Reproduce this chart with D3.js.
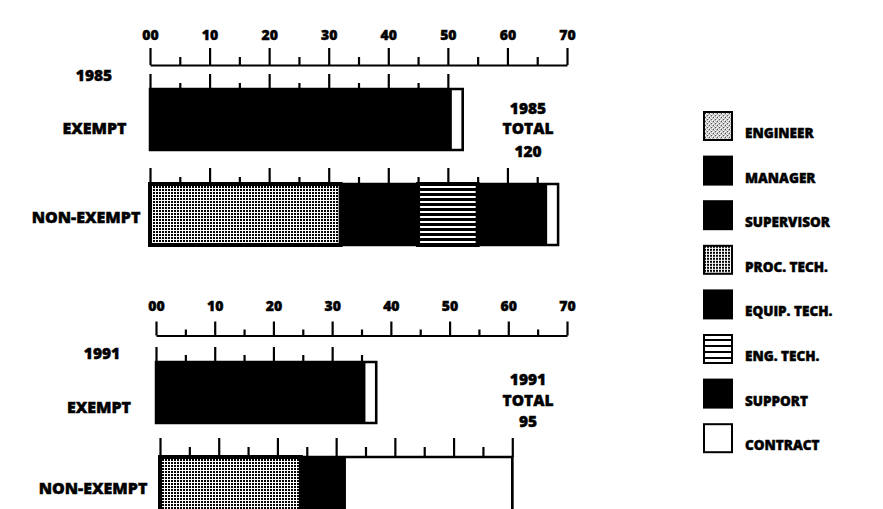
<!DOCTYPE html>
<html>
<head>
<meta charset="utf-8">
<script src="https://cdn.jsdelivr.net/npm/d3@7"></script>
<style>
  body { margin: 0; background: #fff; }
  svg text { font-family: "Open Sans", "Liberation Sans", sans-serif; font-weight: 800; fill: #000; stroke: #000; stroke-width: 0.45; }
</style>
</head>
<body>
<svg id="chart" width="883" height="509"></svg>
<script>
// ---- data ----
const categories = ["ENGINEER", "MANAGER", "SUPERVISOR", "PROC. TECH.", "EQUIP. TECH.", "ENG. TECH.", "SUPPORT", "CONTRACT"];
const tickValues = [0, 10, 20, 30, 40, 50, 60, 70];
const tickLabels = ["00", "10", "20", "30", "40", "50", "60", "70"];
const years = ["1985", "1991"];
const totals = [120, 95];
const rowNames = ["EXEMPT", "NON-EXEMPT"];

const exempt1985 = [["MANAGER", 50.5], ["CONTRACT", 2]];
const nonExempt1985 = [["PROC. TECH.", 32], ["EQUIP. TECH.", 13], ["ENG. TECH.", 10], ["SUPPORT", 11.5], ["CONTRACT", 2]];
const exempt1991 = [["MANAGER", 35.5], ["CONTRACT", 2]];
const nonExempt1991 = [["PROC. TECH.", 24], ["EQUIP. TECH.", 7.5], ["CONTRACT", 28.5]];

const svg = d3.select("#chart");
const defs = svg.append("defs");

// patterns
const engPat = defs.append("pattern").attr("id", "p-engineer")
    .attr("patternUnits", "userSpaceOnUse").attr("width", 4).attr("height", 4);
engPat.append("rect").attr("width", 4).attr("height", 4).attr("fill", "#c4c4c4");
[[0, 0], [2, 1], [1, 3], [3, 2]].forEach(([x, y]) =>
    engPat.append("rect").attr("x", x).attr("y", y).attr("width", 1).attr("height", 1).attr("fill", "#fff"));
[[1, 1], [3, 3]].forEach(([x, y]) =>
    engPat.append("rect").attr("x", x).attr("y", y).attr("width", 1).attr("height", 1).attr("fill", "#555"));

const procPat = defs.append("pattern").attr("id", "p-proc")
    .attr("patternUnits", "userSpaceOnUse").attr("width", 3).attr("height", 3);
procPat.append("rect").attr("width", 3).attr("height", 3).attr("fill", "#fff");
procPat.append("rect").attr("width", 2).attr("height", 2).attr("fill", "#000");

const engTechPat = defs.append("pattern").attr("id", "p-engtech")
    .attr("patternUnits", "userSpaceOnUse").attr("width", 5).attr("height", 5);
engTechPat.append("rect").attr("width", 5).attr("height", 5).attr("fill", "#000");
engTechPat.append("rect").attr("y", 1).attr("width", 5).attr("height", 2).attr("fill", "#fff");

// legend swatch of the striped pattern is coarser than in the bars
const engTechKey = defs.append("pattern").attr("id", "p-engtech-key")
    .attr("patternUnits", "userSpaceOnUse").attr("width", 6).attr("height", 6);
engTechKey.append("rect").attr("width", 6).attr("height", 6).attr("fill", "#fff");
engTechKey.append("rect").attr("y", 4).attr("width", 6).attr("height", 2).attr("fill", "#000");

const fills = d3.scaleOrdinal()
    .domain(categories)
    .range(["url(#p-engineer)", "#000", "#000", "url(#p-proc)", "#000", "url(#p-engtech)", "#000", "#fff"]);

// ---- layout ----
const sections = [
  {
    x0: 150, x1: 567, axisY: 65, major: 17, minor: 8, pad: 8,
    yearPos: [94, 75], totalX: 528, totalY: [108, 128, 151],
    rows: [
      { data: exempt1985, y: 89, dx: 0, label: [94.5, 128], major: 15, minor: 6 },
      { data: nonExempt1985, y: 184, dx: 0, label: [86, 217], major: 16, minor: 7 }
    ]
  },
  {
    x0: 156, x1: 567, axisY: 335.5, major: 14, minor: 6, pad: 11,
    yearPos: [102, 353], totalX: 528, totalY: [379, 400, 421],
    rows: [
      { data: exempt1991, y: 362, dx: 0, label: [99, 407], major: 15, minor: 7 },
      { data: nonExempt1991, y: 457, dx: 4, label: [93, 488], major: 19, minor: 10 }
    ]
  }
];
const barH = 61;

function centerText(g, txt, cx, cy, size, anchor) {
  g.append("text")
    .attr("x", cx).attr("y", cy + size * 0.36)
    .attr("text-anchor", anchor || "middle")
    .attr("font-size", size)
    .text(txt);
}

sections.forEach((s, si) => {
  const g = svg.append("g");
  const x = d3.scaleLinear().domain([0, 70]).range([s.x0, s.x1]);

  // top axis with labels
  const axis = d3.axisTop(x).tickValues(tickValues).tickSize(s.major).tickSizeOuter(0)
      .tickPadding(s.pad).tickFormat((d, i) => tickLabels[i]);
  const ag = g.append("g").attr("transform", `translate(0,${s.axisY})`).call(axis);
  ag.select(".domain").attr("stroke-width", 2.2).attr("stroke", "#000");
  ag.selectAll(".tick line").attr("stroke-width", 2.2).attr("stroke", "#000");
  ag.selectAll(".tick text").attr("font-size", 14).attr("font-family", null).attr("fill", "#000");

  const minorAxis = d3.axisTop(x).tickValues(d3.range(5, 70, 10)).tickSize(s.minor).tickSizeOuter(0).tickFormat("");
  const mg = g.append("g").attr("transform", `translate(0,${s.axisY})`).call(minorAxis);
  mg.select(".domain").remove();
  mg.selectAll(".tick line").attr("stroke-width", 2.2).attr("stroke", "#000");

  centerText(g, years[si], s.yearPos[0], s.yearPos[1], 15.5);

  s.rows.forEach((r, ri) => {
    const xr = d3.scaleLinear().domain([0, 70]).range([s.x0 + r.dx, s.x1 + r.dx]);
    const values = r.data.map(d => d[1]);
    const ends = Array.from(d3.cumsum(values));
    const total = ends[ends.length - 1];
    const segs = r.data.map((d, i) => ({ cat: d[0], start: i ? ends[i - 1] : 0, end: ends[i] }));

    // ticks standing on the bar
    const majT = tickValues.filter(v => v <= total);
    const minT = d3.range(5, 70, 10).filter(v => v <= total);
    const rg = g.append("g").attr("transform", `translate(0,${r.y})`);
    rg.call(d3.axisTop(xr).tickValues(majT).tickSize(r.major).tickSizeOuter(0).tickFormat(""));
    rg.call(g2 => g2.select(".domain").remove());
    rg.selectAll(".tick line").attr("stroke-width", 2.2).attr("stroke", "#000");
    const rm = g.append("g").attr("transform", `translate(0,${r.y})`)
        .call(d3.axisTop(xr).tickValues(minT).tickSize(r.minor).tickSizeOuter(0).tickFormat(""));
    rm.select(".domain").remove();
    rm.selectAll(".tick line").attr("stroke-width", 2.2).attr("stroke", "#000");

    g.selectAll(null).data(segs).enter().append("rect")
      .attr("x", d => xr(d.start))
      .attr("y", r.y)
      .attr("width", d => xr(d.end) - xr(d.start))
      .attr("height", barH)
      .attr("fill", d => fills(d.cat))
      .attr("stroke", "#000")
      .attr("stroke-width", d => fills(d.cat).startsWith("url") ? 4 : 2);

    g.append("rect")
      .attr("x", xr(0)).attr("y", r.y)
      .attr("width", xr(total) - xr(0)).attr("height", barH)
      .attr("fill", "none").attr("stroke", "#000").attr("stroke-width", 2.5);

    centerText(g, rowNames[ri], r.label[0], r.label[1], 16);
  });

  centerText(g, years[si], s.totalX, s.totalY[0], 15.5);
  centerText(g, "TOTAL", s.totalX, s.totalY[1], 15.5);
  centerText(g, String(totals[si]), s.totalX, s.totalY[2], 15.5);
});

// legend
const legend = svg.append("g").attr("transform", "translate(704,112)");
const item = legend.selectAll("g").data(categories).enter().append("g")
    .attr("transform", (d, i) => `translate(0,${i * 44.6})`);
item.append("rect")
    .attr("width", 28).attr("height", 28)
    .attr("fill", d => d === "ENG. TECH." ? "url(#p-engtech-key)" : fills(d))
    .attr("stroke", "#000").attr("stroke-width", 2);
item.append("text")
    .attr("x", 41).attr("y", 26)
    .attr("font-size", 13.5)
    .text(d => d);
</script>
</body>
</html>
